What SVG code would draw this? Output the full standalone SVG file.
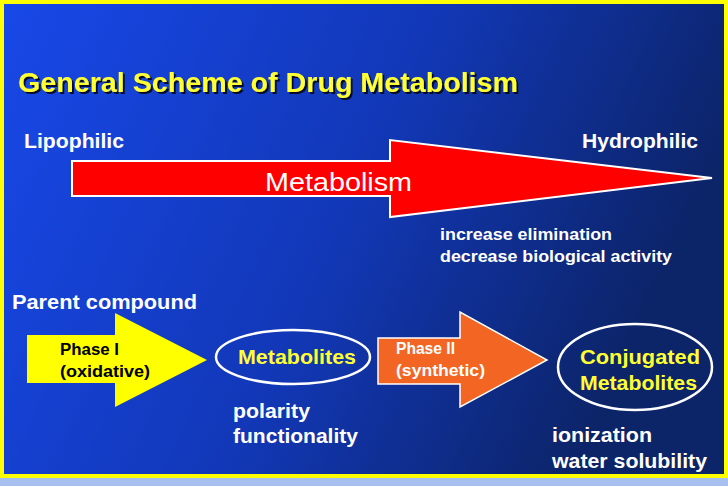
<svg xmlns="http://www.w3.org/2000/svg" width="728" height="486" viewBox="0 0 728 486">
<defs>
<linearGradient id="bg" x1="0" y1="0" x2="1" y2="0.3">
<stop offset="0" stop-color="#1848e8"/><stop offset="0.55" stop-color="#1238b8"/><stop offset="1" stop-color="#0c2468"/>
</linearGradient>
<filter id="sh"><feDropShadow dx="2" dy="2" stdDeviation="0.5" flood-color="#000" flood-opacity="0.8"/></filter>
<style>
text{font-family:"Liberation Sans",Arial,sans-serif;font-weight:bold}
.w{fill:#fff;font-size:20px}
.s{fill:#fff;font-size:16px}
.y{fill:#ffff33;font-size:20px}
.k{fill:#000;font-size:16px}
</style>
</defs>
<rect x="0" y="0" width="728" height="486" fill="#a8c0f0"/>
<rect x="2" y="2" width="724" height="474" fill="url(#bg)" stroke="#ffff00" stroke-width="4"/>
<text x="18" y="92" fill="#ffff33" font-size="28" filter="url(#sh)" textLength="500" lengthAdjust="spacingAndGlyphs">General Scheme of Drug Metabolism</text>
<text x="24" y="148" class="w" textLength="100" lengthAdjust="spacingAndGlyphs">Lipophilic</text>
<text x="582" y="148" class="w" textLength="116" lengthAdjust="spacingAndGlyphs">Hydrophilic</text>
<g id="metabolism">
<polygon points="72,161 390,161 390,140 712,178 390,217 390,196 72,196" fill="#ff0000" stroke="#fff" stroke-width="2"/>
<text x="265" y="191" fill="#fff" font-size="26" style="font-weight:normal" textLength="147" lengthAdjust="spacingAndGlyphs">Metabolism</text>
</g>
<text x="440" y="240" class="s" textLength="172" lengthAdjust="spacingAndGlyphs">increase elimination</text>
<text x="440" y="262" class="s" textLength="232" lengthAdjust="spacingAndGlyphs">decrease biological activity</text>
<text x="12" y="309" class="w" textLength="185" lengthAdjust="spacingAndGlyphs">Parent compound</text>
<g id="phase1">
<polygon points="27,335 115,335 115,313 207,360 115,407 115,383 27,383" fill="#ffff00"/>
<text x="60" y="355" class="k" textLength="59" lengthAdjust="spacingAndGlyphs">Phase I</text>
<text x="60" y="377" class="k" textLength="90" lengthAdjust="spacingAndGlyphs">(oxidative)</text>
</g>
<g id="metabolites">
<ellipse cx="293" cy="357" rx="77" ry="27" fill="none" stroke="#fff" stroke-width="2.5"/>
<text x="238" y="364" class="y" textLength="118" lengthAdjust="spacingAndGlyphs">Metabolites</text>
</g>
<text x="233" y="418" class="w" textLength="77" lengthAdjust="spacingAndGlyphs">polarity</text>
<text x="233" y="443" class="w" textLength="125" lengthAdjust="spacingAndGlyphs">functionality</text>
<g id="phase2">
<polygon points="378,338 460,338 460,312 547,360 460,407 460,384 378,384" fill="#f26522" stroke="#fff" stroke-width="1.5"/>
<text x="396" y="354" class="s" textLength="59" lengthAdjust="spacingAndGlyphs">Phase II</text>
<text x="396" y="376" class="s" textLength="89" lengthAdjust="spacingAndGlyphs">(synthetic)</text>
</g>
<g id="conjugated">
<ellipse cx="635" cy="367" rx="77" ry="43" fill="none" stroke="#fff" stroke-width="2.5"/>
<text x="580" y="364" class="y" textLength="120" lengthAdjust="spacingAndGlyphs">Conjugated</text>
<text x="580" y="390" class="y" textLength="117" lengthAdjust="spacingAndGlyphs">Metabolites</text>
</g>
<text x="552" y="442" class="w" textLength="100" lengthAdjust="spacingAndGlyphs">ionization</text>
<text x="552" y="468" class="w" textLength="155" lengthAdjust="spacingAndGlyphs">water solubility</text>
<g id="connectors"/>
</svg>
